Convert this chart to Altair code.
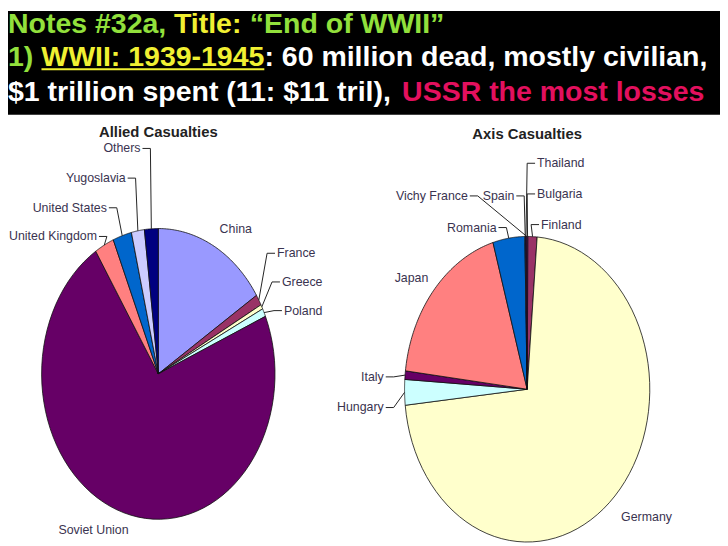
import altair as alt
import pandas as pd

# ---------------- data (% of each side's dead) ----------------
allied_names = ["China", "France", "Greece", "Poland", "Soviet Union",
                "United Kingdom", "United States", "Yugoslavia", "Others"]
allied_values = [15.9, 1.2, 0.5, 0.9, 72.4, 2.7, 2.6, 1.8, 1.9]

axis_names = ["Bulgaria", "Finland", "Germany", "Hungary", "Italy", "Japan",
              "Romania", "Spain", "Thailand", "Vichy France"]
axis_values = [0.1, 1.2, 72.1, 2.7, 0.9, 18.6, 4.2, 0.1, 0.1, 0.1]

# ---------------- styles ----------------
palette = ["#9999FF", "#993366", "#FFFFCC", "#CCFFFF", "#660066",
           "#FF8080", "#0066CC", "#CCCCFF", "#000080", "#FF00FF"]
names_all = allied_names + axis_names
colors_all = palette[:len(allied_names)] + palette[:len(axis_names)]

GREEN = "#92E03C"
YELLOW = "#F0F032"
PINK = "#E3105E"
LABEL = "#3a3350"
SANS = "Liberation Sans, Arial, sans-serif"

W, H = 720, 538
HS = 28.8          # heading font size
K = HS / 28.5      # scale for heading segment offsets

# ---------------- layout: label anchors (chart pixels) ----------------
label_layout = {
    # name: (x, y, align, leader)
    "Others": (134, 139, "right", 1),
    "Yugoslavia": (119, 169, "right", 1),
    "United States": (100, 199, "right", 1),
    "United Kingdom": (90, 228, "right", 1),
    "China": (214, 221, "left", 0),
    "France": (272, 245, "left", 1),
    "Greece": (277, 274, "left", 1),
    "Poland": (279, 303, "left", 1),
    "Soviet Union": (51, 525, "left", 0),
    "Thailand": (535, 154, "left", 1),
    "Bulgaria": (535, 185, "left", 1),
    "Finland": (539, 216, "left", 1),
    "Spain": (512, 187, "right", 1),
    "Vichy France": (465, 187, "right", 1),
    "Romania": (494, 219, "right", 1),
    "Japan": (391, 270, "left", 0),
    "Italy": (380, 370, "right", 1),
    "Hungary": (380, 401, "right", 1),
    "Germany": (620, 512, "left", 0),
}

slices_df = pd.DataFrame({
    "chart": ["Allied"] * len(allied_names) + ["Axis"] * len(axis_names),
    "name": allied_names + axis_names,
    "value": allied_values + axis_values,
    "order": list(range(len(allied_names))) + list(range(len(axis_names))),
})

labels_df = pd.DataFrame([
    {"name": k, "lx": v[0], "ly": v[1], "align": v[2], "leader": v[3],
     "dir": 1 if v[2] == "right" else -1}
    for k, v in label_layout.items()
])

xs = alt.Scale(domain=[0, W], nice=False, zero=False)
ys = alt.Scale(domain=[0, H], nice=False, zero=False, reverse=True)

base = alt.Chart(slices_df).transform_joinaggregate(
    total="sum(value)", groupby=["chart"]
).transform_window(
    cum="sum(value)", sort=[alt.SortField("order")], groupby=["chart"], frame=[None, 0]
).transform_calculate(
    a0="2*PI*(datum.cum - datum.value)/datum.total",
    a1="2*PI*datum.cum/datum.total",
    cx="datum.chart == 'Allied' ? 152 : 525",
    cy="datum.chart == 'Allied' ? 367 : 382.5",
    rx="datum.chart == 'Allied' ? 118 : 124",
    ry="datum.chart == 'Allied' ? 147 : 154.5",
)

N = 72
slices = base.transform_calculate(
    k=f"sequence(0, {N + 3})"
).transform_flatten(["k"]).transform_calculate(
    t=f"datum.a0 + (datum.a1 - datum.a0) * clamp(datum.k - 1, 0, {N}) / {N}",
    arc=f"(datum.k >= 1 && datum.k <= {N + 1}) ? 1 : 0",
).transform_calculate(
    px="datum.cx + datum.arc * datum.rx * sin(datum.t)",
    py="datum.cy - datum.arc * datum.ry * cos(datum.t)",
).mark_line(stroke="#111111", strokeWidth=0.8, strokeJoin="round").encode(
    x=alt.X("px:Q", scale=xs, axis=None),
    y=alt.Y("py:Q", scale=ys, axis=None),
    fill=alt.Fill("name:N", scale=alt.Scale(domain=names_all, range=colors_all), legend=None),
    detail="name:N",
    order="k:Q",
)

leaders = base.transform_lookup(
    lookup="name",
    from_=alt.LookupData(labels_df, "name", ["lx", "ly", "dir", "leader"]),
).transform_filter("datum.leader == 1").transform_calculate(
    tm="(datum.a0 + datum.a1) / 2",
    k="sequence(0, 3)",
).transform_flatten(["k"]).transform_calculate(
    px="datum.k == 0 ? datum.lx + 2*datum.dir : (datum.k == 1 ? datum.lx + 10*datum.dir : datum.cx + datum.rx*sin(datum.tm))",
    py="datum.k < 2 ? datum.ly : datum.cy - datum.ry*cos(datum.tm)",
).mark_line(stroke="#222222", strokeWidth=1).encode(
    x=alt.X("px:Q", scale=xs, axis=None),
    y=alt.Y("py:Q", scale=ys, axis=None),
    detail="name:N",
    order="k:Q",
)

def label_layer(align):
    return alt.Chart(labels_df).transform_filter(
        f"datum.align == '{align}'"
    ).mark_text(align=align, baseline="middle", font=SANS, fontSize=12.5, color=LABEL).encode(
        x=alt.X("lx:Q", scale=xs, axis=None),
        y=alt.Y("ly:Q", scale=ys, axis=None),
        text="name:N",
    )

dummy = pd.DataFrame({"a": [0]})

def txt(s, x, y, color, size=HS, align="left"):
    return alt.Chart(dummy).mark_text(
        text=s, align=align, baseline="alphabetic", font=SANS, fontSize=size,
        fontWeight="bold", color=color
    ).encode(x=alt.value(x), y=alt.value(y))

black_band = alt.Chart(dummy).mark_rect(color="black").encode(
    x=alt.value(0), x2=alt.value(W), y=alt.value(0), y2=alt.value(105)
)

underline = alt.Chart(dummy).mark_rule(color=YELLOW, strokeWidth=2).encode(
    x=alt.value(33.5 * K), x2=alt.value(256.5 * K), y=alt.value(59)
)

headings = [
    txt("Notes #32a, ", 0, 22, GREEN),
    txt("Title: ", 166 * K, 22, YELLOW),
    txt("\u201cEnd of WWII\u201d", 242 * K, 22, GREEN),
    txt("1) ", 0, 56, GREEN),
    txt("WWII: 1939-1945", 33.3 * K, 56, YELLOW),
    txt(": 60 million dead, mostly civilian,", 256.6 * K, 56, "white"),
    txt("$1 trillion spent (11: $11 tril), ", 0, 91, "white"),
    txt("USSR the most losses", 394.4 * K, 91, PINK),
]

pie_titles = [
    txt("Allied Casualties", 152, 127, "#222222", size=15, align="center"),
    txt("Axis Casualties", 525, 129, "#222222", size=15, align="center"),
]

chart = alt.layer(
    black_band, *headings, underline, slices, leaders,
    label_layer("left"), label_layer("right"), *pie_titles,
).properties(
    width=W, height=H, background="white", padding=0,
    autosize=alt.AutoSizeParams(type="none"),
).configure_view(stroke=None)

chart.save("out.html", embed_options={"renderer": "svg", "actions": False})
